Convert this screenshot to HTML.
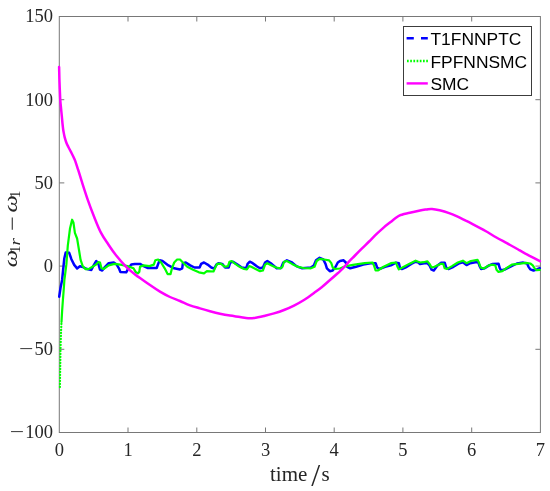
<!DOCTYPE html>
<html><head><meta charset="utf-8"><title>plot</title>
<style>
html,body{margin:0;padding:0;background:#fff;}
svg{display:block;}
.tk text{font-family:"Liberation Serif",serif;font-size:18.5px;fill:#262626;}
.lb{font-family:"Liberation Serif",serif;fill:#262626;}
.lg text{font-family:"Liberation Sans",sans-serif;font-size:17.4px;fill:#000;}
</style></head><body>
<svg width="550" height="491" viewBox="0 0 550 491">
<rect width="550" height="491" fill="#fff"/>
<g stroke="#787878" stroke-width="1" fill="none" shape-rendering="auto">
<rect x="59.3" y="16.5" width="481.09999999999997" height="416.0"/>
<line x1="128.0" y1="432.5" x2="128.0" y2="427.5"/><line x1="128.0" y1="16.5" x2="128.0" y2="21.5"/><line x1="196.8" y1="432.5" x2="196.8" y2="427.5"/><line x1="196.8" y1="16.5" x2="196.8" y2="21.5"/><line x1="265.5" y1="432.5" x2="265.5" y2="427.5"/><line x1="265.5" y1="16.5" x2="265.5" y2="21.5"/><line x1="334.2" y1="432.5" x2="334.2" y2="427.5"/><line x1="334.2" y1="16.5" x2="334.2" y2="21.5"/><line x1="402.9" y1="432.5" x2="402.9" y2="427.5"/><line x1="402.9" y1="16.5" x2="402.9" y2="21.5"/><line x1="471.7" y1="432.5" x2="471.7" y2="427.5"/><line x1="471.7" y1="16.5" x2="471.7" y2="21.5"/><line x1="59.3" y1="99.7" x2="64.3" y2="99.7"/><line x1="540.4" y1="99.7" x2="535.4" y2="99.7"/><line x1="59.3" y1="182.9" x2="64.3" y2="182.9"/><line x1="540.4" y1="182.9" x2="535.4" y2="182.9"/><line x1="59.3" y1="266.1" x2="64.3" y2="266.1"/><line x1="540.4" y1="266.1" x2="535.4" y2="266.1"/><line x1="59.3" y1="349.3" x2="64.3" y2="349.3"/><line x1="540.4" y1="349.3" x2="535.4" y2="349.3"/>
</g>
<g fill="none" stroke-linejoin="round" stroke-linecap="round">
<polyline stroke="#0000ff" stroke-width="2.5" points="59.2,296.7 60.5,288.0 62.1,280.0 64.3,258.5 65.7,252.5 69.2,252.8 71.4,259.2 74.2,264.9 77.1,268.4 79.9,266.3 82.8,267.0 87.1,269.1 91.3,269.9 93.5,265.6 96.3,261.0 98.5,264.2 100.0,269.7 102.2,270.5 105.1,266.8 108.7,263.2 113.8,262.5 116.7,264.6 118.9,268.3 120.4,271.9 126.2,272.3 128.4,268.3 131.3,264.6 134.9,263.9 140.0,263.9 143.6,266.1 148.0,268.0 156.7,268.0 158.2,263.9 159.6,260.3 162.5,261.0 168.4,265.4 174.2,268.3 180.0,269.5 182.2,268.3 182.9,263.2 185.8,262.5 190.2,265.4 194.5,267.5 199.6,267.5 201.1,263.9 204.0,262.5 207.6,264.6 211.3,267.5 214.2,268.6 216.4,264.6 218.5,263.2 222.2,263.9 225.1,267.5 228.7,267.5 230.2,262.5 233.1,261.7 237.5,264.6 241.8,267.5 246.2,268.3 247.6,263.9 249.8,261.7 252.7,263.2 257.1,266.5 260.0,268.3 262.9,267.5 265.1,262.5 267.3,261.0 271.6,263.9 276.7,268.3 281.1,268.0 283.3,262.5 286.9,260.3 292.0,262.5 296.4,266.1 302.2,268.3 310.9,267.5 313.8,265.4 316.0,260.3 319.6,257.8 323.3,259.5 325.5,263.9 326.9,268.3 329.8,271.2 332.7,270.5 335.6,266.8 337.8,262.5 340.0,261.0 343.6,260.3 345.8,262.5 347.3,266.8 350.2,268.3 356.0,266.8 363.3,264.6 370.5,263.2 375.6,263.2 377.1,267.5 379.3,269.0 385.1,266.8 390.9,265.4 396.0,262.7 398.9,263.2 399.9,267.5 401.8,269.0 406.9,266.8 411.3,263.9 415.6,261.7 418.5,262.5 420.0,264.0 424.4,263.2 427.3,263.2 429.5,265.4 431.6,269.7 433.8,270.5 437.5,265.4 441.1,262.7 444.7,262.7 446.2,267.5 448.4,269.0 453.5,266.8 459.3,263.2 462.9,262.2 466.5,265.1 470.2,263.2 475.3,262.2 478.2,262.2 479.6,266.1 481.1,269.0 484.7,268.3 489.1,265.4 492.7,264.0 498.5,263.7 499.7,267.9 501.0,270.5 505.5,269.2 510.5,266.6 516.9,263.5 523.3,262.6 527.1,263.5 528.4,266.6 530.3,269.4 533.5,270.5 537.3,269.2 539.8,268.2"/>
<polyline stroke="#00ff00" stroke-width="2.2" points="61.5,322.0 62.1,311.4 62.9,300.0 63.7,290.0 64.4,280.0 66.4,264.2 67.8,245.6 70.0,228.5 72.1,219.7 73.5,222.8 74.9,232.8 77.1,238.5 79.2,251.3 80.6,259.9 82.8,266.3 85.6,269.1 88.5,269.1 92.0,267.0 95.6,264.9 98.5,262.0 100.0,262.5 101.5,268.3 103.6,269.0 108.7,265.4 114.5,263.9 120.4,264.6 127.6,266.1 133.5,268.3 135.6,271.9 137.8,273.4 139.3,271.9 140.0,266.8 143.6,265.4 149.5,266.1 153.8,264.6 155.3,260.3 158.2,259.5 161.1,262.5 164.7,268.3 167.6,274.1 170.5,274.1 172.0,268.3 174.2,262.5 177.1,259.5 180.0,259.5 182.9,262.5 187.3,266.8 193.1,269.7 198.9,272.3 204.0,273.4 206.9,271.2 213.5,271.5 215.6,266.8 217.1,263.9 220.7,263.6 225.1,266.8 228.0,266.1 229.5,261.7 231.6,261.0 235.3,263.9 239.6,266.8 244.0,269.0 246.9,269.4 249.1,266.1 251.3,266.8 255.6,269.0 260.0,271.2 262.9,270.5 265.1,264.6 267.3,263.2 271.6,265.4 276.0,267.5 280.4,268.3 282.5,266.8 284.0,261.7 286.9,261.0 292.0,263.9 297.8,266.8 303.6,268.0 310.9,268.3 314.5,266.8 316.7,261.0 319.6,258.8 324.0,259.5 329.1,260.3 331.3,263.2 332.7,267.5 334.9,269.0 340.0,268.5 345.8,266.1 354.5,264.6 364.7,263.2 372.7,262.5 374.2,266.1 375.6,270.5 377.8,270.5 383.6,266.8 390.9,263.2 396.0,262.5 397.5,266.8 398.9,269.4 402.5,267.5 409.1,263.9 415.6,260.7 420.0,262.5 423.6,262.2 427.3,261.3 429.5,263.9 431.6,267.5 434.5,266.8 440.4,263.9 443.3,263.9 444.7,268.3 446.9,269.0 452.0,266.1 457.8,262.5 462.9,260.7 466.5,263.2 470.9,261.0 477.5,259.8 478.9,262.5 480.4,266.8 481.3,267.9 483.8,268.5 488.9,265.4 492.7,264.7 495.3,265.4 496.5,269.8 498.5,272.0 502.3,271.1 506.7,267.9 511.8,264.7 518.2,263.8 525.8,262.8 530.3,263.5 532.8,265.4 534.7,268.5 536.6,270.2 539.8,269.8"/>
<polyline stroke="#00ff00" stroke-width="2.3" stroke-dasharray="0.1 2.9" points="59.9,387.0 60.2,370.0 60.5,350.0 61.0,333.0 61.5,322.0"/>
<path stroke="#ff00ff" stroke-width="2.5" d="M59.1,67.0C59.2,69.5 59.3,76.7 59.5,82.0C59.7,87.3 60.0,94.7 60.2,99.0C60.5,103.3 60.7,105.2 61.0,108.0C61.3,110.8 61.5,113.2 61.8,116.0C62.1,118.8 62.3,121.9 62.6,124.5C62.9,127.1 63.1,129.4 63.5,131.5C63.9,133.6 64.2,135.5 64.7,137.3C65.2,139.1 65.7,140.8 66.3,142.5C66.9,144.2 67.8,145.8 68.5,147.3C69.2,148.8 70.0,150.2 70.8,151.6C71.5,153.0 72.3,154.5 73.0,156.0C73.7,157.5 74.4,158.5 75.2,160.8C76.0,163.1 77.0,166.3 78.1,169.7C79.2,173.0 80.0,175.9 81.6,180.9C83.2,185.9 85.7,193.8 87.7,199.6C89.7,205.4 91.6,210.5 93.8,216.0C96.0,221.5 98.4,227.8 100.9,232.6C103.4,237.4 106.2,241.2 108.7,245.0C111.2,248.8 113.1,251.6 116.0,255.2C118.9,258.8 122.8,263.4 126.2,266.8C129.6,270.2 134.1,273.6 136.4,275.5C138.7,277.4 137.7,276.4 140.0,278.0C142.3,279.6 146.7,282.7 150.0,285.0C153.3,287.3 156.7,289.6 160.0,291.6C163.3,293.6 166.7,295.4 170.0,297.0C173.3,298.6 176.7,299.6 180.0,301.0C183.3,302.4 186.7,304.1 190.0,305.3C193.3,306.5 196.7,307.4 200.0,308.4C203.3,309.4 206.7,310.4 210.0,311.3C213.3,312.2 216.7,313.1 220.0,313.8C223.3,314.5 226.7,315.1 230.0,315.6C233.3,316.1 237.3,316.6 240.0,317.0C242.7,317.4 243.7,317.8 246.0,318.0C248.3,318.2 251.0,318.3 254.0,318.0C257.0,317.7 260.7,316.8 264.0,316.0C267.3,315.2 270.7,314.4 274.0,313.4C277.3,312.4 280.7,311.3 284.0,310.0C287.3,308.7 290.7,307.3 294.0,305.6C297.3,303.9 300.7,302.1 304.0,300.0C307.3,297.9 311.0,295.2 314.0,293.0C317.0,290.8 319.3,289.2 322.0,287.0C324.7,284.8 327.3,282.3 330.0,280.0C332.7,277.7 335.9,274.9 338.0,273.0C340.1,271.1 341.1,270.3 342.9,268.4C344.7,266.5 346.8,263.9 348.7,261.8C350.6,259.7 352.3,258.2 354.5,256.0C356.7,253.8 359.4,251.1 361.8,248.7C364.2,246.3 366.7,243.9 369.1,241.5C371.5,239.1 374.0,236.5 376.4,234.2C378.8,231.9 381.2,229.7 383.6,227.6C386.0,225.5 388.5,223.7 390.9,221.8C393.3,219.9 396.3,217.5 398.2,216.3C400.1,215.1 400.6,215.1 402.5,214.5C404.4,213.9 406.9,213.5 409.8,212.8C412.7,212.1 417.2,211.1 420.0,210.5C422.8,209.9 424.5,209.7 426.5,209.4C428.5,209.2 429.8,208.8 432.0,209.0C434.2,209.2 436.9,209.7 439.6,210.3C442.3,211.0 445.5,211.9 448.4,212.9C451.3,213.9 454.2,215.1 457.1,216.4C460.0,217.7 462.9,219.2 465.8,220.7C468.7,222.1 471.2,223.4 474.5,225.1C477.8,226.8 481.9,228.9 485.5,231.0C489.1,233.1 492.8,235.4 496.4,237.5C500.0,239.6 503.7,241.4 507.3,243.4C510.9,245.4 514.6,247.4 518.2,249.5C521.8,251.6 525.5,253.8 529.1,255.7C532.7,257.6 538.1,260.3 539.9,261.2"/>
</g>
<g class="tk"><text x="59.3" y="455.5" text-anchor="middle">0</text><text x="128.0" y="455.5" text-anchor="middle">1</text><text x="196.8" y="455.5" text-anchor="middle">2</text><text x="265.5" y="455.5" text-anchor="middle">3</text><text x="334.2" y="455.5" text-anchor="middle">4</text><text x="402.9" y="455.5" text-anchor="middle">5</text><text x="471.7" y="455.5" text-anchor="middle">6</text><text x="540.4" y="455.5" text-anchor="middle">7</text><text x="53" y="22.3" text-anchor="end">150</text><text x="53" y="105.5" text-anchor="end">100</text><text x="53" y="188.7" text-anchor="end">50</text><text x="53" y="271.9" text-anchor="end">0</text><text x="53" y="355.1" text-anchor="end">50</text><text transform="translate(33.5,355.1) scale(1.38,1)" text-anchor="end">−</text><text x="53" y="438.3" text-anchor="end">100</text><text transform="translate(24.2,438.3) scale(1.38,1)" text-anchor="end">−</text></g>
<g class="lb" font-size="21"><text x="270" y="480.5">time</text><text x="311.2" y="485.8" font-size="32">/</text><text x="321.4" y="480.5">s</text></g>
<g class="lb" transform="translate(0,266.5) rotate(-90)">
<text transform="translate(-0.8,17.3) scale(1.25,1)" font-size="19.6" font-style="italic">ω</text>
<text transform="translate(13.5,20.4)" font-size="14.7">1</text>
<text transform="translate(21.1,20.4) scale(1.3,1)" font-size="14.7" font-style="italic">r</text>
<text transform="translate(35.4,18.8) scale(1.24,1)" font-size="21">−</text>
<text transform="translate(54.0,17.3) scale(1.25,1)" font-size="19.6" font-style="italic">ω</text>
<text transform="translate(68.5,20.4)" font-size="14.7">1</text>
</g>
<g class="lg">
<rect x="403.5" y="26.5" width="128" height="69" fill="#fff" stroke="#3c3c3c" stroke-width="1"/>
<line x1="406.6" y1="38.3" x2="427.8" y2="38.3" stroke="#0000ff" stroke-width="2.4" stroke-dasharray="7.2 7.2"/>
<line x1="407" y1="61" x2="428" y2="61" stroke="#00ff00" stroke-width="2.3" stroke-dasharray="1.7 1.5"/>
<line x1="406.6" y1="83.4" x2="427.8" y2="83.4" stroke="#ff00ff" stroke-width="2.4"/>
<text x="430.5" y="45">T1FNNPTC</text>
<text x="430.5" y="67.5">FPFNNSMC</text>
<text x="430.5" y="90">SMC</text>
</g>
</svg>
</body></html>
